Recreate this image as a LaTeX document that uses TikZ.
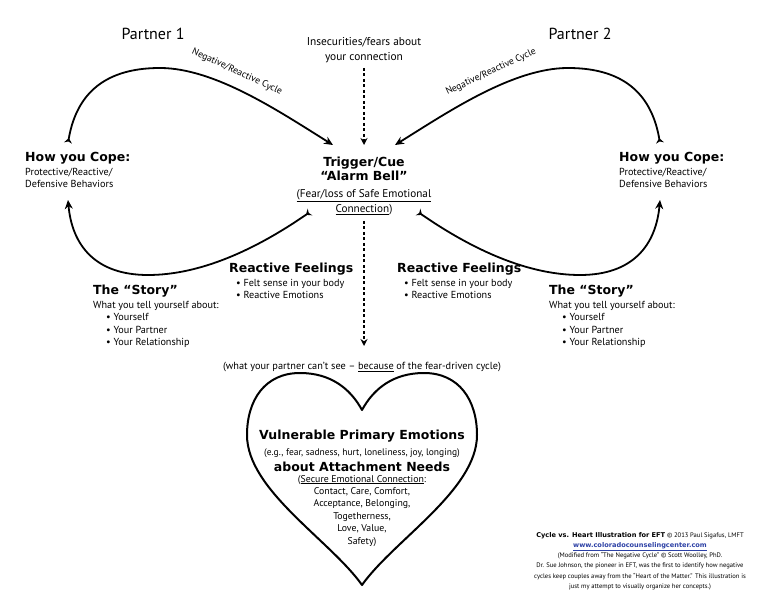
\documentclass[tikz,border=0pt]{standalone}
\usepackage{fontspec}
\setmainfont{PT Sans}
\newfontfamily\blackfont{DejaVu Sans}
\usetikzlibrary{positioning, arrows.meta}
\definecolor{linkblue}{RGB}{45,65,165}

\begin{document}
\begin{tikzpicture}[x=1pt, y=-1pt,
  headtext/.style={font=\blackfont\bfseries\fontsize{12.5}{14}\selectfont, inner sep=0pt},
  bodytext/.style={font=\fontsize{10.2}{12.3}\selectfont, inner sep=0pt, align=left},
  hearttext/.style={font=\fontsize{9.8}{12.4}\selectfont, inner sep=0pt, align=center},
  cyclearrow/.style={line width=1.8pt, {Stealth[reversed, length=5pt, width=8pt]}-{Stealth[length=9pt, width=8pt]}},
  dasharrow/.style={line width=1.6pt, dash pattern=on 3pt off 2.5pt, -{Stealth[length=7pt, width=7pt]}},
  cyclelabel/.style={font=\fontsize{9.6}{11}\selectfont, inner sep=0pt}]
\useasboundingbox (0,0) rectangle (768,601);

% partners and the trigger
\node[font=\fontsize{16}{18}\selectfont, anchor=base] (partner1) at (153,40) {Partner 1};
\node[font=\fontsize{16}{18}\selectfont, anchor=base] (partner2) at (580,40) {Partner 2};
\node[bodytext, align=center, font=\fontsize{11.4}{15}\selectfont, anchor=north] (insec) at (364,37) {Insecurities/fears about\\your connection};
\node[headtext, align=center, anchor=north] (trigger) at (364,157) {Trigger/Cue\\“Alarm Bell”};
\node[bodytext, align=center, font=\fontsize{11.2}{15}\selectfont, anchor=north] (safe) at (364,189) {\underline{(Fear/loss of Safe Emotional}\\\underline{Connection})};

% partner 1
\node[headtext, anchor=base west] (cope1) at (25,162) {How you Cope:};
\node[bodytext, anchor=north west] (cope1txt) at (25,168) {Protective/Reactive/\\Defensive Behaviors};
\node[headtext, anchor=base west] (feel1) at (229,273) {Reactive Feelings};
\node[bodytext, anchor=north west] (feel1txt) at (236,279) {• Felt sense in your body\\• Reactive Emotions};
\node[headtext, anchor=base west] (story1) at (93,295) {The “Story”};
\node[bodytext, anchor=north west] (story1txt) at (93,301) {What you tell yourself about:\\\hspace*{13pt}• Yourself\\\hspace*{13pt}• Your Partner\\\hspace*{13pt}• Your Relationship};

% partner 2
\node[headtext, anchor=base west] (cope2) at (619,162) {How you Cope:};
\node[bodytext, anchor=north west] (cope2txt) at (619,168) {Protective/Reactive/\\Defensive Behaviors};
\node[headtext, anchor=base west] (feel2) at (397,273) {Reactive Feelings};
\node[bodytext, anchor=north west] (feel2txt) at (404,279) {• Felt sense in your body\\• Reactive Emotions};
\node[headtext, anchor=base west] (story2) at (549,295) {The “Story”};
\node[bodytext, anchor=north west] (story2txt) at (549,301) {What you tell yourself about:\\\hspace*{13pt}• Yourself\\\hspace*{13pt}• Your Partner\\\hspace*{13pt}• Your Relationship};

% ends of the cycle curves
\coordinate (c1top) at (68,143);
\coordinate (c1bot) at (68,200);
\coordinate (t1top) at (333,145);
\coordinate (t1bot) at (310,212);
\coordinate (c2top) at (660,143);
\coordinate (c2bot) at (660,200);
\coordinate (t2top) at (395,145);
\coordinate (t2bot) at (418,212);

\draw[cyclearrow] (c1top) .. controls (78,85) and (115,68) .. (160,68) .. controls (215,68) and (280,112) .. (t1top);
\draw[cyclearrow] (t1bot) .. controls (255,250) and (200,275) .. (148,275) .. controls (95,275) and (72,245) .. (c1bot);
\draw[cyclearrow] (c2top) .. controls (650,85) and (613,68) .. (568,68) .. controls (513,68) and (448,112) .. (t2top);
\draw[cyclearrow] (t2bot) .. controls (473,250) and (528,275) .. (580,275) .. controls (633,275) and (656,245) .. (c2bot);
\node[cyclelabel, rotate=-25] (neg1) at (237,72) {Negative/Reactive Cycle};
\node[cyclelabel, rotate=25] (neg2) at (491,72) {Negative/Reactive Cycle};

% down to the heart
\node[bodytext, font=\fontsize{10.3}{12}\selectfont, anchor=base] (unseen) at (362,370) {(what your partner can’t see – \underline{because} of the fear-driven cycle)};
\draw[dasharrow, shorten <=5pt, shorten >=2pt] (insec.south) -- (trigger.north |- 0,147);
\draw[dasharrow, shorten <=6pt] (safe.south -| 364,0) -- (364,346);

% heart
\coordinate (notch) at (362,410);
\coordinate (tip) at (362,585);
\draw[line width=2pt, line join=round] (notch) .. controls (350,388) and (330,373) .. (300,373)
  .. controls (265,373) and (247,400) .. (247,435)
  .. controls (247,490) and (330,540) .. (tip)
  .. controls (394,540) and (477,490) .. (477,435)
  .. controls (477,400) and (459,373) .. (424,373)
  .. controls (394,373) and (374,388) .. (notch) -- cycle;
\node[headtext, anchor=base] (vuln) at (362,439) {Vulnerable Primary Emotions};
\node[hearttext, font=\fontsize{9.5}{12}\selectfont, anchor=base] (eg) at (362,455) {(e.g., fear, sadness, hurt, loneliness, joy, longing)};
\node[headtext, anchor=base] (attach) at (362,471) {about Attachment Needs};
\node[hearttext, anchor=north] (needs) at (362,475) {(\underline{Secure Emotional Connection}:\\Contact, Care, Comfort,\\Acceptance, Belonging,\\Togetherness,\\Love, Value,\\Safety)};

% credit
\node[font=\fontsize{6.6}{10.2}\selectfont, align=center, anchor=north, inner sep=0pt] (credit) at (640,532) {{\blackfont\bfseries Cycle vs. Heart Illustration for EFT} © 2013 Paul Sigafus, LMFT\\
{\color{linkblue}\blackfont\bfseries\underline{www.coloradocounselingcenter.com}}\\
(Modified from “The Negative Cycle” © Scott Woolley, PhD.\\
Dr. Sue Johnson, the pioneer in EFT, was the first to identify how negative\\
cycles keep couples away from the “Heart of the Matter.” This illustration is\\
just my attempt to visually organize her concepts.)};
\end{tikzpicture}
\end{document}
